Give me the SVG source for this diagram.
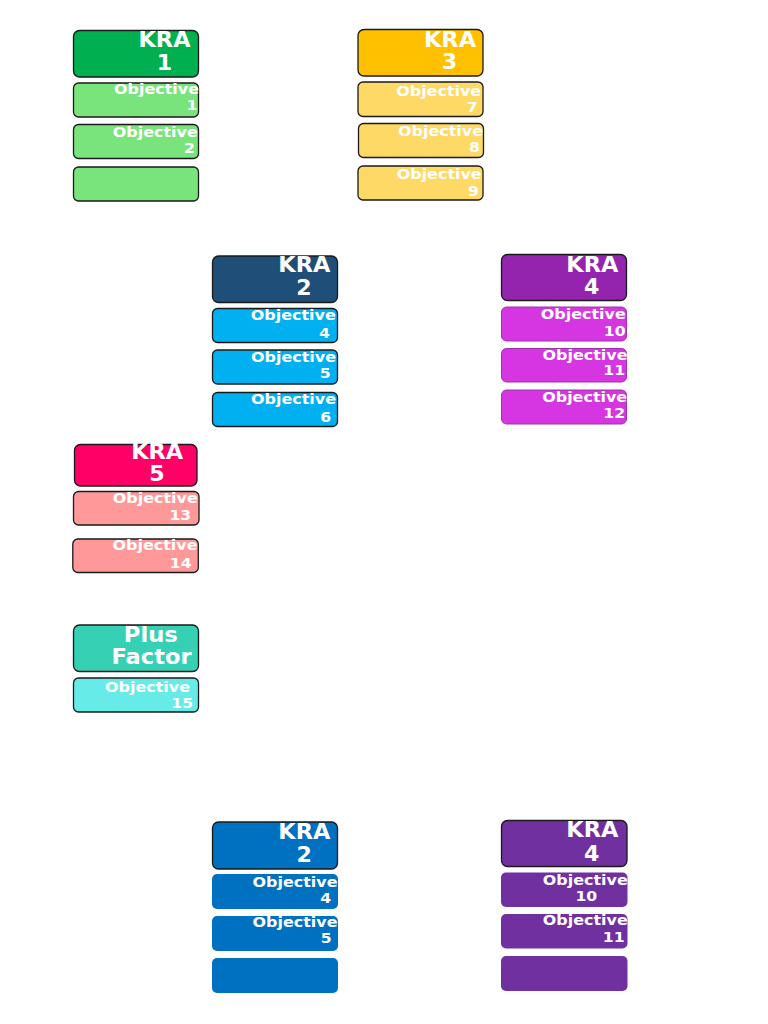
<svg xmlns="http://www.w3.org/2000/svg" width="768" height="1024" viewBox="0 0 768 1024">
<style>
.b{stroke:#1a1a1a;stroke-width:1.3}
.t{font-family:"DejaVu Sans","Verdana",sans-serif;font-weight:bold;fill:#fff;text-anchor:middle}
.k{font-size:20.5px}
.o{font-size:14.5px}
</style>
<rect width="768" height="1024" fill="#fff"/>
<g id="kra1">
<rect class="b" x="73.5" y="30.5" width="125" height="46.5" rx="6" fill="#00B050"/>
<text class="t k" x="164.5" y="47.3" textLength="52" lengthAdjust="spacingAndGlyphs">KRA</text>
<text class="t k" x="164.5" y="69.8" textLength="15.4" lengthAdjust="spacingAndGlyphs">1</text>
</g>
<g id="obj1">
<rect class="b" x="73.5" y="83" width="125" height="34" rx="5" fill="#79E47C"/>
<text class="t o" x="156.5" y="93.5" textLength="85" lengthAdjust="spacingAndGlyphs">Objective</text>
<text class="t o" x="192" y="110" textLength="10.9" lengthAdjust="spacingAndGlyphs">1</text>
</g>
<g id="obj2">
<rect class="b" x="73.5" y="124.5" width="125" height="34" rx="5" fill="#79E47C"/>
<text class="t o" x="155.3" y="136.5" textLength="85" lengthAdjust="spacingAndGlyphs">Objective</text>
<text class="t o" x="189.5" y="153" textLength="10.9" lengthAdjust="spacingAndGlyphs">2</text>
</g>
<g id="obj3">
<rect class="b" x="73.5" y="167" width="125" height="34" rx="5" fill="#79E47C"/>
</g>
<g id="kra3">
<rect class="b" x="358" y="29.5" width="125" height="46.5" rx="6" fill="#FFC000"/>
<text class="t k" x="450" y="47.3" textLength="52" lengthAdjust="spacingAndGlyphs">KRA</text>
<text class="t k" x="449.5" y="69.3" textLength="15.4" lengthAdjust="spacingAndGlyphs">3</text>
</g>
<g id="obj7">
<rect class="b" x="358" y="82" width="125" height="34.5" rx="5" fill="#FFD966"/>
<text class="t o" x="438.7" y="95.5" textLength="85" lengthAdjust="spacingAndGlyphs">Objective</text>
<text class="t o" x="472.3" y="111.7" textLength="10.9" lengthAdjust="spacingAndGlyphs">7</text>
</g>
<g id="obj8">
<rect class="b" x="358.5" y="123.5" width="125" height="34" rx="5" fill="#FFD966"/>
<text class="t o" x="440.5" y="135.5" textLength="85" lengthAdjust="spacingAndGlyphs">Objective</text>
<text class="t o" x="474.5" y="152" textLength="10.9" lengthAdjust="spacingAndGlyphs">8</text>
</g>
<g id="obj9">
<rect class="b" x="358" y="166" width="125" height="34" rx="5" fill="#FFD966"/>
<text class="t o" x="439.2" y="178.5" textLength="85" lengthAdjust="spacingAndGlyphs">Objective</text>
<text class="t o" x="473.5" y="196" textLength="10.9" lengthAdjust="spacingAndGlyphs">9</text>
</g>
<g id="kra2">
<rect class="b" x="212.5" y="256" width="125" height="46.5" rx="6" fill="#1F4E79"/>
<text class="t k" x="304.3" y="272.3" textLength="52" lengthAdjust="spacingAndGlyphs">KRA</text>
<text class="t k" x="304" y="295" textLength="15.4" lengthAdjust="spacingAndGlyphs">2</text>
</g>
<g id="obj4">
<rect class="b" x="212.5" y="308.5" width="125" height="34" rx="5" fill="#00B0F0"/>
<text class="t o" x="293.3" y="320" textLength="85" lengthAdjust="spacingAndGlyphs">Objective</text>
<text class="t o" x="324.5" y="337.5" textLength="10.9" lengthAdjust="spacingAndGlyphs">4</text>
</g>
<g id="obj5">
<rect class="b" x="212.5" y="350" width="125" height="34" rx="5" fill="#00B0F0"/>
<text class="t o" x="293.5" y="361.7" textLength="85" lengthAdjust="spacingAndGlyphs">Objective</text>
<text class="t o" x="325.3" y="378.3" textLength="10.9" lengthAdjust="spacingAndGlyphs">5</text>
</g>
<g id="obj6">
<rect class="b" x="212.5" y="392.5" width="125" height="34" rx="5" fill="#00B0F0"/>
<text class="t o" x="293.5" y="404.3" textLength="85" lengthAdjust="spacingAndGlyphs">Objective</text>
<text class="t o" x="325.7" y="421.7" textLength="10.9" lengthAdjust="spacingAndGlyphs">6</text>
</g>
<g id="kra4">
<rect class="b" x="501.5" y="254.5" width="125" height="46" rx="6" fill="#9424AE"/>
<text class="t k" x="592.3" y="271.7" textLength="52" lengthAdjust="spacingAndGlyphs">KRA</text>
<text class="t k" x="591.7" y="294.3" textLength="15.4" lengthAdjust="spacingAndGlyphs">4</text>
</g>
<g id="obj10">
<rect x="501.5" y="307" width="125" height="34" rx="5" fill="#D636E1" stroke="#9A33AE" stroke-width="1"/>
<text class="t o" x="583.3" y="319" textLength="85" lengthAdjust="spacingAndGlyphs">Objective</text>
<text class="t o" x="614.7" y="335.7" textLength="21.8" lengthAdjust="spacingAndGlyphs">10</text>
</g>
<g id="obj11">
<rect x="501.5" y="348.5" width="125" height="33.5" rx="5" fill="#D636E1" stroke="#9A33AE" stroke-width="1"/>
<text class="t o" x="585" y="360" textLength="85" lengthAdjust="spacingAndGlyphs">Objective</text>
<text class="t o" x="614.2" y="375" textLength="21.8" lengthAdjust="spacingAndGlyphs">11</text>
</g>
<g id="obj12">
<rect x="501.5" y="390" width="125" height="34" rx="5" fill="#D636E1" stroke="#9A33AE" stroke-width="1"/>
<text class="t o" x="584.7" y="401.7" textLength="85" lengthAdjust="spacingAndGlyphs">Objective</text>
<text class="t o" x="614.2" y="418.3" textLength="21.8" lengthAdjust="spacingAndGlyphs">12</text>
</g>
<g id="kra5">
<rect class="b" x="74.5" y="444.5" width="122.5" height="41.5" rx="6" fill="#FF0066"/>
<text class="t k" x="157.2" y="459" textLength="52" lengthAdjust="spacingAndGlyphs">KRA</text>
<text class="t k" x="157" y="481" textLength="15.4" lengthAdjust="spacingAndGlyphs">5</text>
</g>
<g id="obj13">
<rect class="b" x="73.5" y="491.5" width="125.5" height="33.5" rx="5" fill="#FF9999"/>
<text class="t o" x="155.3" y="503.3" textLength="85" lengthAdjust="spacingAndGlyphs">Objective</text>
<text class="t o" x="180.3" y="520" textLength="21.8" lengthAdjust="spacingAndGlyphs">13</text>
</g>
<g id="obj14">
<rect class="b" x="72.8" y="539" width="125.5" height="33.5" rx="5" fill="#FF9999"/>
<text class="t o" x="155" y="550" textLength="85" lengthAdjust="spacingAndGlyphs">Objective</text>
<text class="t o" x="180.7" y="567.7" textLength="21.8" lengthAdjust="spacingAndGlyphs">14</text>
</g>
<g id="plus-factor">
<rect class="b" x="73.5" y="625" width="125" height="46.5" rx="6" fill="#36D0B5"/>
<text class="t k" x="150.8" y="641.7" textLength="54" lengthAdjust="spacingAndGlyphs">Plus</text>
<text class="t k" x="151.5" y="664.3" textLength="80" lengthAdjust="spacingAndGlyphs">Factor</text>
</g>
<g id="obj15">
<rect class="b" x="73.5" y="678" width="125" height="34" rx="5" fill="#66EBE8"/>
<text class="t o" x="147.5" y="692.3" textLength="85" lengthAdjust="spacingAndGlyphs">Objective</text>
<text class="t o" x="182.2" y="707.7" textLength="21.8" lengthAdjust="spacingAndGlyphs">15</text>
</g>
<g id="kra2-b">
<rect class="b" x="212.5" y="822" width="125" height="47" rx="6" fill="#0070C0"/>
<text class="t k" x="304.3" y="839" textLength="52" lengthAdjust="spacingAndGlyphs">KRA</text>
<text class="t k" x="304.3" y="861.7" textLength="15.4" lengthAdjust="spacingAndGlyphs">2</text>
</g>
<g id="obj4-b">
<rect x="212" y="874" width="126" height="35" rx="5" fill="#0070C0"/>
<text class="t o" x="295" y="886.7" textLength="85" lengthAdjust="spacingAndGlyphs">Objective</text>
<text class="t o" x="325.8" y="902.7" textLength="10.9" lengthAdjust="spacingAndGlyphs">4</text>
</g>
<g id="obj5-b">
<rect x="212" y="916" width="126" height="35" rx="5" fill="#0070C0"/>
<text class="t o" x="295" y="926.7" textLength="85" lengthAdjust="spacingAndGlyphs">Objective</text>
<text class="t o" x="326.2" y="943.3" textLength="10.9" lengthAdjust="spacingAndGlyphs">5</text>
</g>
<g id="obj6-b">
<rect x="212" y="958" width="126" height="35" rx="5" fill="#0070C0"/>
</g>
<g id="kra4-b">
<rect class="b" x="501.5" y="820.5" width="125.5" height="46" rx="6" fill="#7030A0"/>
<text class="t k" x="592.3" y="837.3" textLength="52" lengthAdjust="spacingAndGlyphs">KRA</text>
<text class="t k" x="591.7" y="860.7" textLength="15.4" lengthAdjust="spacingAndGlyphs">4</text>
</g>
<g id="obj10-b">
<rect x="501" y="872.5" width="126.5" height="34.5" rx="5" fill="#7030A0"/>
<text class="t o" x="585.3" y="885" textLength="85" lengthAdjust="spacingAndGlyphs">Objective</text>
<text class="t o" x="586.3" y="900.7" textLength="21.8" lengthAdjust="spacingAndGlyphs">10</text>
</g>
<g id="obj11-b">
<rect x="501" y="914" width="126.5" height="34.5" rx="5" fill="#7030A0"/>
<text class="t o" x="585.3" y="925" textLength="85" lengthAdjust="spacingAndGlyphs">Objective</text>
<text class="t o" x="613.7" y="941.7" textLength="21.8" lengthAdjust="spacingAndGlyphs">11</text>
</g>
<g id="obj12-b">
<rect x="501" y="956" width="126.5" height="35" rx="5" fill="#7030A0"/>
</g>
<g id="connectors"/>
</svg>
